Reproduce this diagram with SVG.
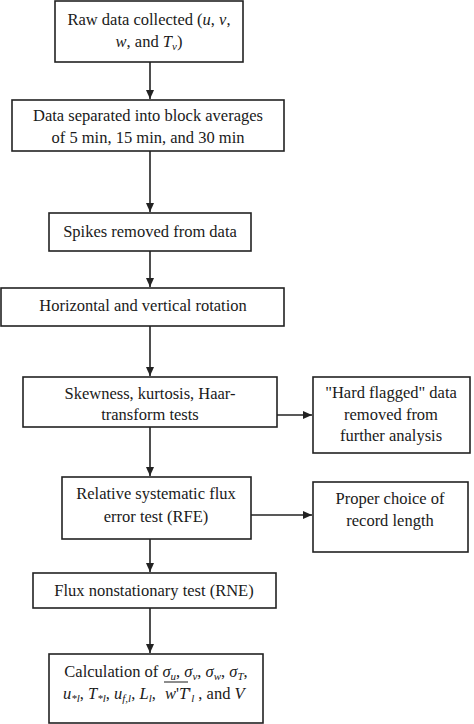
<svg xmlns="http://www.w3.org/2000/svg" width="474" height="724" viewBox="0 0 474 724">
<style>
.box{fill:#fff;stroke:#222;stroke-width:1.6}
.c{stroke:#222;stroke-width:1.6;fill:none}
</style>
<defs>
<marker id="ah" markerWidth="10" markerHeight="10" refX="9" refY="5" orient="auto" markerUnits="userSpaceOnUse">
<path d="M0,1 L9,5 L0,9 Z" fill="#222"/>
</marker>
</defs>
<rect width="474" height="724" fill="#fff"/>
<g id="connectors">
<line class="c" x1="150" y1="62" x2="150" y2="99" marker-end="url(#ah)"/>
<line class="c" x1="150" y1="151" x2="150" y2="212" marker-end="url(#ah)"/>
<line class="c" x1="150" y1="251" x2="150" y2="287" marker-end="url(#ah)"/>
<line class="c" x1="150" y1="326" x2="150" y2="376" marker-end="url(#ah)"/>
<line class="c" x1="277" y1="415" x2="312" y2="415" marker-end="url(#ah)"/>
<line class="c" x1="150" y1="427" x2="150" y2="476" marker-end="url(#ah)"/>
<line class="c" x1="251" y1="515" x2="312" y2="515" marker-end="url(#ah)"/>
<line class="c" x1="150" y1="539" x2="150" y2="572" marker-end="url(#ah)"/>
<line class="c" x1="150" y1="608" x2="150" y2="653" marker-end="url(#ah)"/>
</g>
<g font-family="Liberation Serif" font-size="16.5" fill="#1a1a1a" text-anchor="middle">
<g id="n1">
<rect class="box" x="55" y="1" width="188" height="61"/>
<text x="149" y="25" font-family="Liberation Serif">Raw data collected (<tspan font-style="italic">u</tspan>, <tspan font-style="italic">v</tspan>,</text>
<text x="149" y="47" font-family="Liberation Serif"><tspan font-style="italic">w</tspan>, and <tspan font-style="italic">T</tspan><tspan font-style="italic" font-size="11" dy="3">v</tspan><tspan dy="-3">)</tspan></text>
</g>
<g id="n2">
<rect class="box" x="12" y="100" width="272" height="51"/>
<text x="148" y="121" font-family="Liberation Serif">Data separated into block averages</text>
<text x="148" y="143" font-family="Liberation Serif">of 5 min, 15 min, and 30 min</text>
</g>
<g id="n3">
<rect class="box" x="49" y="213" width="202" height="38"/>
<text x="150" y="237" font-family="Liberation Serif">Spikes removed from data</text>
</g>
<g id="n4">
<rect class="box" x="1" y="288" width="283" height="38"/>
<text x="143" y="311" font-family="Liberation Serif">Horizontal and vertical rotation</text>
</g>
<g id="n5">
<rect class="box" x="23" y="377" width="254" height="50"/>
<text x="150" y="399" font-family="Liberation Serif">Skewness, kurtosis, Haar-</text>
<text x="150" y="420" font-family="Liberation Serif">transform tests</text>
</g>
<g id="n6">
<rect class="box" x="313" y="377" width="157" height="76"/>
<text x="391" y="398" font-family="Liberation Serif">"Hard flagged" data</text>
<text x="391" y="420" font-family="Liberation Serif">removed from</text>
<text x="391" y="441" font-family="Liberation Serif">further analysis</text>
</g>
<g id="n7">
<rect class="box" x="62" y="477" width="189" height="62"/>
<text x="156" y="499" font-family="Liberation Serif">Relative systematic flux</text>
<text x="156" y="522" font-family="Liberation Serif">error test (RFE)</text>
</g>
<g id="n8">
<rect class="box" x="313" y="482" width="155" height="70"/>
<text x="390" y="504" font-family="Liberation Serif">Proper choice of</text>
<text x="390" y="526" font-family="Liberation Serif">record length</text>
</g>
<g id="n9">
<rect class="box" x="33" y="573" width="243" height="35"/>
<text x="154" y="596" font-family="Liberation Serif">Flux nonstationary test (RNE)</text>
</g>
<g id="n10">
<rect class="box" x="49" y="654" width="214" height="69"/>
<text x="156" y="677" font-family="Liberation Serif">Calculation of <tspan font-style="italic">σ</tspan><tspan font-style="italic" font-size="11" dy="3">u</tspan><tspan dy="-3">, </tspan><tspan font-style="italic">σ</tspan><tspan font-style="italic" font-size="11" dy="3">v</tspan><tspan dy="-3">, </tspan><tspan font-style="italic">σ</tspan><tspan font-style="italic" font-size="11" dy="3">w</tspan><tspan dy="-3">, </tspan><tspan font-style="italic">σ</tspan><tspan font-style="italic" font-size="11" dy="3">T</tspan><tspan dy="-3">,</tspan></text>
<text x="63" y="699" text-anchor="start" font-family="Liberation Serif"><tspan font-style="italic">u</tspan><tspan font-style="italic" font-size="11" dy="3">*l</tspan><tspan dy="-3">, </tspan><tspan font-style="italic">T</tspan><tspan font-style="italic" font-size="11" dy="3">*l</tspan><tspan dy="-3">, </tspan><tspan font-style="italic">u</tspan><tspan font-style="italic" font-size="11" dy="3">f,l</tspan><tspan dy="-3">, </tspan><tspan font-style="italic">L</tspan><tspan font-style="italic" font-size="11" dy="3">l</tspan><tspan dy="-3">,</tspan></text>
<text x="165" y="699" text-anchor="start" font-family="Liberation Serif"><tspan font-style="italic">w</tspan>'<tspan font-style="italic">T</tspan>'<tspan font-style="italic" font-size="11" dy="3">l</tspan><tspan dy="-3"> , and </tspan><tspan font-style="italic">V</tspan></text>
<line x1="164" y1="682" x2="188" y2="682" stroke="#1a1a1a" stroke-width="1"/>
</g>
</g>
</svg>
